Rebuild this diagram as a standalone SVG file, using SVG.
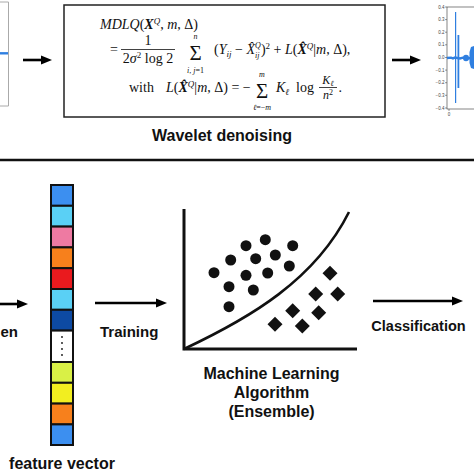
<svg xmlns="http://www.w3.org/2000/svg" width="474" height="474" viewBox="0 0 474 474">
<style>
.m{font-family:"Liberation Serif","Times New Roman",serif;font-size:14px;fill:#111}
.it{font-style:italic}
.bi{font-style:italic;font-weight:bold}
.s{font-size:9px}
.t{font-size:8px}
.big{font-size:21px}
.lbl{font-family:"Liberation Sans",Arial,sans-serif;font-weight:bold;fill:#111}
.arr{stroke:#000;stroke-width:2.6;fill:none}
.cell{stroke:#111;stroke-width:2}
.tk{font-family:"Liberation Sans",Arial,sans-serif;font-size:4.5px;fill:#444}
.sig{stroke:#2f7fe0;fill:none}
</style>
<defs>
<marker id="ah" markerUnits="userSpaceOnUse" markerWidth="12" markerHeight="10" refX="5" refY="5" orient="auto">
<path d="M0,0.5 L11,5 L0,9.5 z" fill="#000"/>
</marker>
</defs>
<rect width="474" height="474" fill="#fff"/>

<g id="input-signal">
<path d="M0,2 H8.5 V106 H0" fill="none" stroke="#aaa" stroke-width="1"/>
<line x1="0" y1="53.3" x2="8" y2="53.3" stroke="#2f7fe0" stroke-width="2.4"/>
</g>

<g id="formula">
<rect x="64" y="5" width="321" height="112" fill="#fff" stroke="#222" stroke-width="1.5"/>
<text x="100" y="28.5" class="m"><tspan class="it">MDLQ</tspan>(<tspan class="bi">X</tspan><tspan class="it s" dy="-5">Q</tspan><tspan dy="5">, </tspan><tspan class="it">m</tspan>, Δ)</text>
<text x="110" y="54" class="m">=</text>
<line x1="121" y1="49.5" x2="175" y2="49.5" stroke="#111" stroke-width="0.8"/>
<text x="148" y="45" class="m" text-anchor="middle">1</text>
<text x="148" y="63" class="m" text-anchor="middle">2<tspan class="it">σ</tspan><tspan class="s" dy="-5">2</tspan><tspan dy="5"> log 2</tspan></text>
<text x="195.5" y="60" class="m big" text-anchor="middle">Σ</text>
<text x="195.5" y="38.5" class="m it t" text-anchor="middle">n</text>
<text x="195.5" y="72.5" class="m t" text-anchor="middle"><tspan class="it">i</tspan>, <tspan class="it">j</tspan>=1</text>
<text x="214" y="54" class="m">(<tspan class="it">Y</tspan><tspan class="it s" dy="3">ij</tspan><tspan dy="-3"> − </tspan><tspan class="it">X&#x302;</tspan><tspan class="it t" dy="-6">Q</tspan><tspan class="it t" dx="-5.8" dy="10">ij</tspan><tspan dx="1.5" dy="-4">)</tspan><tspan class="s" dy="-5">2</tspan><tspan dy="5"> + </tspan><tspan class="it">L</tspan>(<tspan class="bi">X&#x302;</tspan><tspan class="it s" dy="-5">Q</tspan><tspan dy="5">|</tspan><tspan class="it">m</tspan>, Δ),</text>
<text x="129" y="92" class="m">with</text>
<text x="166" y="92" class="m"><tspan class="it">L</tspan>(<tspan class="bi">X&#x302;</tspan><tspan class="it s" dy="-5">Q</tspan><tspan dy="5">|</tspan><tspan class="it">m</tspan>, Δ) = −</text>
<text x="262" y="97.5" class="m big" text-anchor="middle">Σ</text>
<text x="262" y="77" class="m it t" text-anchor="middle">m</text>
<text x="262" y="110" class="m t" text-anchor="middle"><tspan class="it">ℓ</tspan>=−<tspan class="it">m</tspan></text>
<text x="276" y="92" class="m"><tspan class="it">K</tspan><tspan class="it s" dy="3">ℓ</tspan></text>
<text x="296" y="92" class="m">log</text>
<line x1="319" y1="87.5" x2="337" y2="87.5" stroke="#111" stroke-width="0.8"/>
<text x="328" y="83.5" class="m" text-anchor="middle" style="font-size:12px"><tspan class="it">K</tspan><tspan class="it" style="font-size:8px" dy="2.5">ℓ</tspan></text>
<text x="328" y="99" class="m" text-anchor="middle" style="font-size:12px"><tspan class="it">n</tspan><tspan style="font-size:8px" dy="-4">2</tspan></text>
<text x="338.5" y="92" class="m">.</text>
</g>

<g id="wavelet-label">
<text x="222" y="141" class="lbl" text-anchor="middle" style="font-size:16px">Wavelet denoising</text>
</g>

<g id="denoised-signal">
<rect x="447" y="7" width="40" height="102" fill="none" stroke="#333" stroke-width="0.6"/>
<g stroke="#333" stroke-width="0.5">
<line x1="445" y1="7" x2="447" y2="7"/><line x1="445" y1="19.6" x2="447" y2="19.6"/><line x1="445" y1="32.2" x2="447" y2="32.2"/><line x1="445" y1="44.8" x2="447" y2="44.8"/><line x1="445" y1="57.5" x2="447" y2="57.5"/><line x1="445" y1="70.1" x2="447" y2="70.1"/><line x1="445" y1="82.7" x2="447" y2="82.7"/><line x1="445" y1="95.3" x2="447" y2="95.3"/><line x1="445" y1="108" x2="447" y2="108"/>
<line x1="449" y1="109" x2="449" y2="111"/>
</g>
<g class="tk" text-anchor="end">
<text x="444.5" y="8.5">0.4</text><text x="444.5" y="21.1">0.3</text><text x="444.5" y="33.7">0.2</text><text x="444.5" y="46.3">0.1</text><text x="444.5" y="59">0.0</text><text x="444.5" y="71.6">−0.1</text><text x="444.5" y="84.2">−0.2</text><text x="444.5" y="96.8">−0.3</text><text x="444.5" y="109.5">−0.4</text>
</g>
<text x="449" y="116" class="tk" text-anchor="middle">0</text>
<path class="sig" stroke-width="2.4" d="M447,58 L451,57.6 L453,58.4 L455,57.5 L460,58.4 L463,57.6 L468,58.3 L474,58"/>
<line class="sig" x1="455.6" y1="12" x2="455.6" y2="103" stroke-width="1.2"/>
<line class="sig" x1="458.4" y1="35" x2="458.4" y2="88" stroke-width="1.8"/>
<ellipse cx="466" cy="58" rx="3" ry="3.2" fill="#2f7fe0"/>
<path d="M469.5,52 L471,47 L474,46 L474,69 L471,68 L469.5,63 z" fill="#2f7fe0"/>
</g>

<line x1="0" y1="160" x2="474" y2="160" stroke="#111" stroke-width="2.4"/>

<g id="feature-vector">
<rect class="cell" x="51" y="185" width="22" height="20.8" fill="#3c8ff0"/>
<rect class="cell" x="51" y="205.8" width="22" height="20.8" fill="#5ad0f5"/>
<rect class="cell" x="51" y="226.6" width="22" height="20.8" fill="#ee7aa2"/>
<rect class="cell" x="51" y="247.4" width="22" height="20.8" fill="#f7801c"/>
<rect class="cell" x="51" y="268.2" width="22" height="20.8" fill="#ea1a1e"/>
<rect class="cell" x="51" y="289" width="22" height="20.8" fill="#5ad0f5"/>
<rect class="cell" x="51" y="309.8" width="22" height="20.8" fill="#0d4aa3"/>
<rect class="cell" x="51" y="330.6" width="22" height="31.4" fill="#fff"/>
<rect class="cell" x="51" y="362" width="22" height="20.8" fill="#d9f046"/>
<rect class="cell" x="51" y="382.8" width="22" height="20.8" fill="#f2ee20"/>
<rect class="cell" x="51" y="403.6" width="22" height="20.8" fill="#f7801c"/>
<rect class="cell" x="51" y="424.4" width="22" height="20.6" fill="#3c8ff0"/>
<g fill="#111"><circle cx="62" cy="337" r="0.9"/><circle cx="62" cy="343" r="0.9"/><circle cx="62" cy="349" r="0.9"/><circle cx="62" cy="355" r="0.9"/></g>
<text x="62" y="469" class="lbl" text-anchor="middle" style="font-size:16px">feature vector</text>
</g>

<g id="ml-algorithm">
<path d="M184,209 V349 H357" fill="none" stroke="#111" stroke-width="3"/>
<path d="M184,349 C250,318 315,280 349,212" fill="none" stroke="#111" stroke-width="2.6"/>
<g fill="#111">
<circle cx="246" cy="245.7" r="5.5"/><circle cx="265.3" cy="239.7" r="5.5"/><circle cx="292.7" cy="245.7" r="5.5"/>
<circle cx="230.7" cy="260" r="5.5"/><circle cx="255.7" cy="258.7" r="5.5"/><circle cx="275.3" cy="255" r="5.5"/>
<circle cx="289.3" cy="266" r="5.5"/><circle cx="214" cy="272.7" r="5.5"/><circle cx="246" cy="275.3" r="5.5"/>
<circle cx="267.7" cy="273" r="5.5"/><circle cx="229" cy="286.7" r="5.5"/><circle cx="253.3" cy="290" r="5.5"/>
<circle cx="229" cy="306.7" r="5.5"/>
<path d="M330,265.8 l7.5,7.5 l-7.5,7.5 l-7.5,-7.5 z"/>
<path d="M315.7,286.5 l7.5,7.5 l-7.5,7.5 l-7.5,-7.5 z"/>
<path d="M337.7,286.5 l7.5,7.5 l-7.5,7.5 l-7.5,-7.5 z"/>
<path d="M292.7,303.2 l7.5,7.5 l-7.5,7.5 l-7.5,-7.5 z"/>
<path d="M318.7,305.2 l7.5,7.5 l-7.5,7.5 l-7.5,-7.5 z"/>
<path d="M275,316.8 l7.5,7.5 l-7.5,7.5 l-7.5,-7.5 z"/>
<path d="M302.3,318.5 l7.5,7.5 l-7.5,7.5 l-7.5,-7.5 z"/>
</g>
<text x="271.5" y="379" class="lbl" text-anchor="middle" style="font-size:16px">Machine Learning</text>
<text x="271.5" y="398" class="lbl" text-anchor="middle" style="font-size:16px">Algorithm</text>
<text x="271.5" y="417" class="lbl" text-anchor="middle" style="font-size:16px">(Ensemble)</text>
</g>

<g id="connectors">
<line class="arr" x1="23" y1="60" x2="46" y2="60" marker-end="url(#ah)"/>
<line class="arr" x1="392" y1="60" x2="415" y2="60" marker-end="url(#ah)"/>
<line class="arr" x1="0" y1="304" x2="22" y2="304" marker-end="url(#ah)"/>
<line class="arr" x1="95" y1="303" x2="161" y2="303" marker-end="url(#ah)"/>
<line class="arr" x1="373" y1="301" x2="457" y2="301" marker-end="url(#ah)"/>
</g>

<g id="edge-labels">
<text x="18" y="337" class="lbl" text-anchor="end" style="font-size:15px">en</text>
<text x="100" y="337" class="lbl" style="font-size:15px">Training</text>
<text x="418.5" y="331" class="lbl" text-anchor="middle" style="font-size:14.5px">Classification</text>
</g>
</svg>
